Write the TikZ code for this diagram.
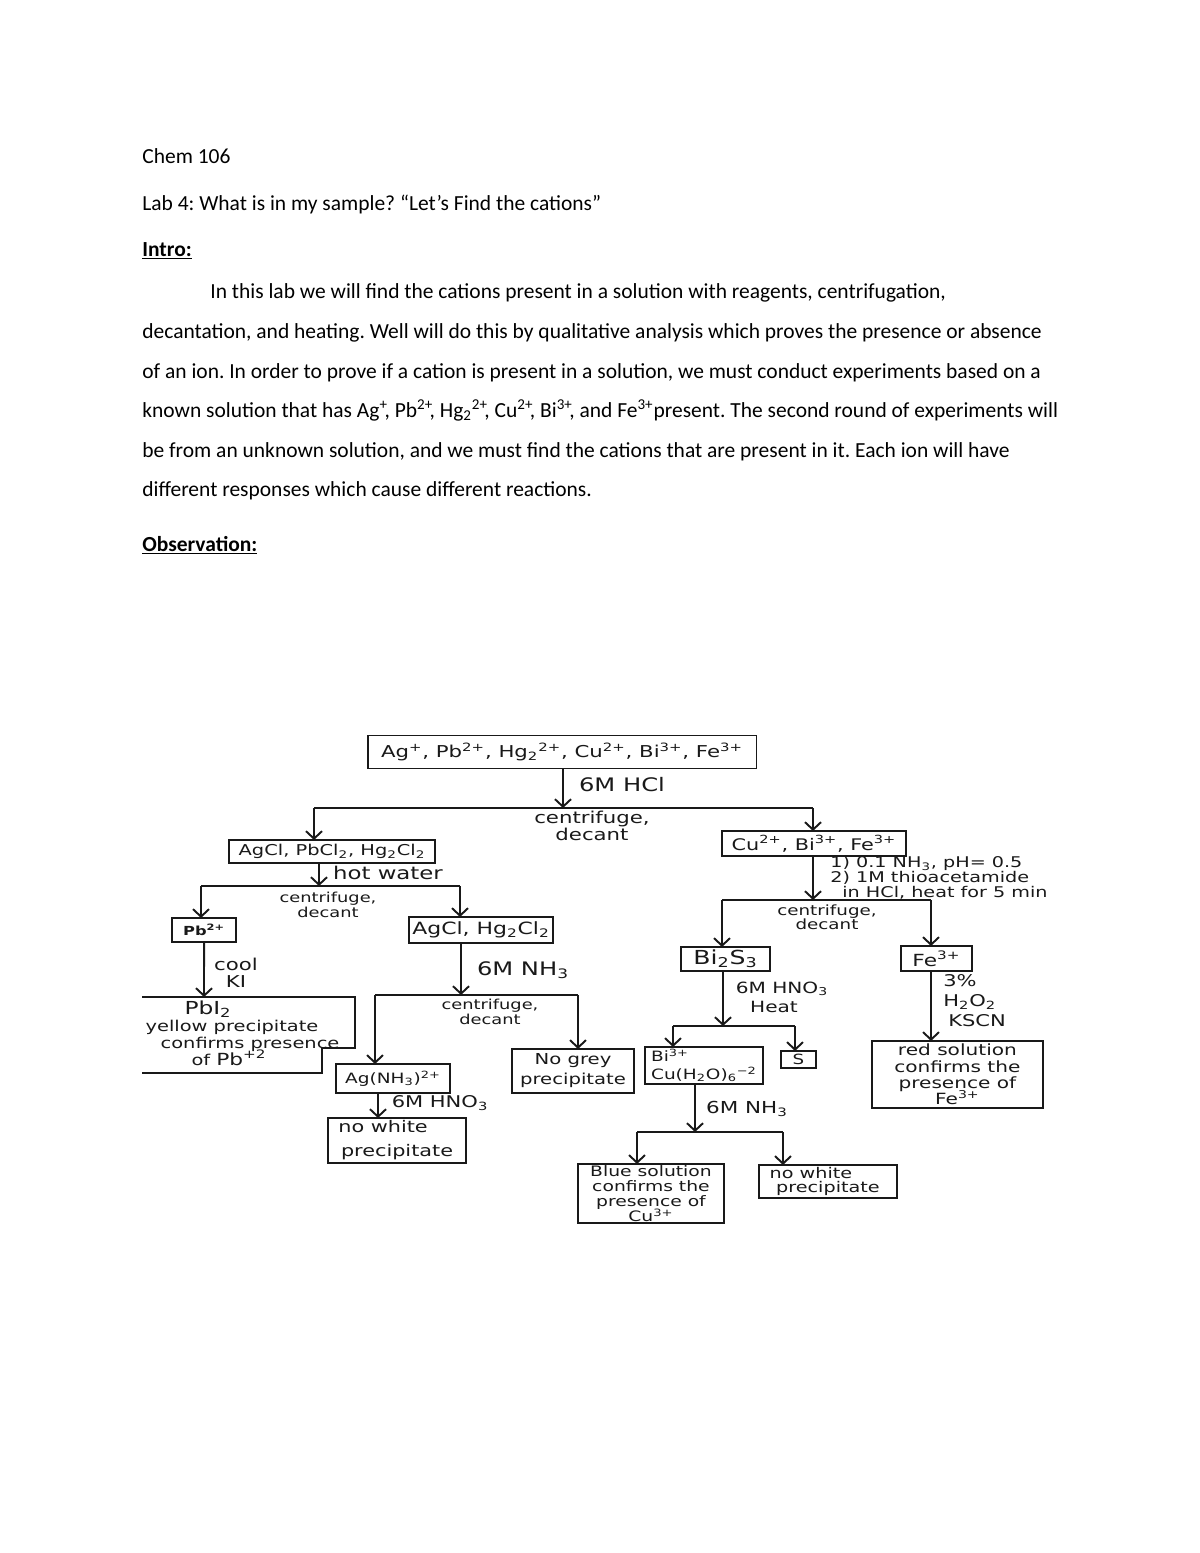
\documentclass[tikz,border=0pt]{standalone}
\usepackage{fontspec}
\usepackage{xcolor}
\usepackage{tikz}
\usetikzlibrary{arrows.meta,positioning}
\setmainfont{Carlito}
\newfontfamily\handfont[FakeStretch=1.3]{DejaVu Sans}
\definecolor{inkblack}{RGB}{25,25,25}
\newcommand{\ionup}[1]{\textsuperscript{#1}\kern-0.16em}

\begin{document}
\frenchspacing
\lineskiplimit=-20pt
\normallineskiplimit=-20pt
\begin{tikzpicture}[
    x=0.02cm,
    y=-0.02cm,
    >={Straight Barb[length=1.5mm,width=3.2mm]},
    printed/.style={
        anchor=base west,
        inner sep=0pt,
        font=\fontsize{12.23}{14}\selectfont
    },
    hand/.style={
        inner sep=0pt,
        align=center,
        text=inkblack,
        font=\handfont\fontsize{7.8}{8.5}\selectfont
    },
    box/.style={
        rectangle,
        draw=inkblack,
        line width=1.1pt,
        inner sep=0pt,
        outer sep=0pt,
        align=center,
        text=inkblack
    },
    ink/.style={draw=inkblack, line width=1.1pt}
]
\useasboundingbox (0,0) rectangle (1200,1553);

\node[printed] (course) at (142,163) {Chem 106};
\node[printed] (title) at (142,210) {Lab 4: What is in my sample? “Let’s Find the cations”};
\node[printed] (intro) at (142,256) {\underline{\textbf{Intro:}}};
\node[printed] (lineone) at (210,298) {In this lab we will find the cations present in a solution with reagents, centrifugation,};
\node[printed] (linetwo) at (142,338) {decantation, and heating. Well will do this by qualitative analysis which proves the presence or absence};
\node[printed] (linethree) at (142,378) {of an ion. In order to prove if a cation is present in a solution, we must conduct experiments based on a};
\node[printed] (linefour) at (142,417) {known solution that has Ag\ionup{+}, Pb\ionup{2+}, Hg\textsubscript{2}\ionup{2+}, Cu\ionup{2+}, Bi\ionup{3+}, and Fe\textsuperscript{3+}present. The second round of experiments will};
\node[printed] (linefive) at (142,457) {be from an unknown solution, and we must find the cations that are present in it. Each ion will have};
\node[printed] (linesix) at (142,496) {different responses which cause different reactions.};
\node[printed] (observation) at (142,551) {\underline{\textbf{Observation:}}};

\node[box, minimum width=7.78cm, minimum height=0.66cm, font=\handfont\fontsize{9.3}{11}\selectfont] (top) at (562,752)
    {Ag\textsuperscript{+}, Pb\textsuperscript{2+}, Hg\textsubscript{2}\textsuperscript{2+}, Cu\textsuperscript{2+}, Bi\textsuperscript{3+}, Fe\textsuperscript{3+}};
\node[box, minimum width=4.12cm, minimum height=0.46cm, below=1.43cm of top, xshift=-4.6cm, font=\handfont\fontsize{8.5}{10}\selectfont] (chlorides)
    {AgCl, PbCl\textsubscript{2}, Hg\textsubscript{2}Cl\textsubscript{2}};
\node[box, minimum width=3.68cm, minimum height=0.5cm, below=1.25cm of top, xshift=5.04cm, font=\handfont\fontsize{9.1}{11}\selectfont] (cubife)
    {Cu\textsuperscript{2+}, Bi\textsuperscript{3+}, Fe\textsuperscript{3+}};
\node[box, minimum width=1.28cm, minimum height=0.48cm, below=1.1cm of chlorides, xshift=-2.56cm, font=\handfont\bfseries\fontsize{7.1}{9}\selectfont] (lead)
    {Pb\textsuperscript{2+}};
\node[box, minimum width=2.88cm, minimum height=0.52cm, below=1.08cm of chlorides, xshift=2.98cm, font=\handfont\fontsize{9.6}{11}\selectfont] (aghg)
    {AgCl, Hg\textsubscript{2}Cl\textsubscript{2}};
\node[box, minimum width=2.28cm, minimum height=0.58cm, below=2.42cm of aghg, xshift=-1.76cm, font=\handfont\fontsize{8.1}{10}\selectfont] (silver)
    {Ag(NH\textsubscript{3})\textsuperscript{2+}};
\node[box, minimum width=2.44cm, minimum height=0.88cm, below=2.12cm of aghg, xshift=1.84cm, font=\handfont\fontsize{8.6}{11.4}\selectfont] (nogrey)
    {No grey\\precipitate};
\node[box, minimum width=2.76cm, minimum height=0.9cm, below=0.5cm of silver, xshift=0.08cm, font=\handfont\fontsize{9.1}{13.6}\selectfont] (nowhitea)
    {no white\hspace*{0.56cm}\\precipitate};
\node[box, minimum width=1.78cm, minimum height=0.48cm, below=1.82cm of cubife, xshift=-1.77cm, font=\handfont\fontsize{11}{13}\selectfont] (bisulfide)
    {Bi\textsubscript{2}S\textsubscript{3}};
\node[box, minimum width=1.42cm, minimum height=0.5cm, below=1.8cm of cubife, xshift=2.45cm, font=\handfont\fontsize{9.5}{11}\selectfont] (iron)
    {Fe\textsuperscript{3+}};
\node[box, minimum width=2.36cm, minimum height=0.74cm, below=1.52cm of bisulfide, xshift=-0.43cm, align=left, font=\handfont\fontsize{8.1}{10}\selectfont] (bicu)
    {Bi\textsuperscript{3+}\\Cu(H\textsubscript{2}O)\textsubscript{6}\textsuperscript{−2}};
\node[box, minimum width=0.7cm, minimum height=0.34cm, below=1.6cm of bisulfide, xshift=1.46cm, font=\handfont\fontsize{8}{10}\selectfont] (sulfur)
    {S};
\node[box, minimum width=3.42cm, minimum height=1.34cm, below=1.4cm of iron, xshift=0.42cm, font=\handfont\fontsize{8.8}{9.3}\selectfont] (redsol)
    {red solution\\confirms the\\presence of\\Fe\textsuperscript{3+}};
\node[box, minimum width=2.92cm, minimum height=1.18cm, below=1.6cm of bicu, xshift=-1.06cm, font=\handfont\fontsize{8.2}{8.5}\selectfont] (bluesol)
    {Blue solution\\confirms the\\presence of\\Cu\textsuperscript{3+}};
\node[box, minimum width=2.76cm, minimum height=0.66cm, below=1.62cm of bicu, xshift=2.48cm, font=\handfont\fontsize{8.4}{8.4}\selectfont] (nowhiteb)
    {no white\hspace*{0.68cm}\\precipitate};

\node[hand, font=\handfont\fontsize{10.2}{12}\selectfont] (pbiname) at (208,1009) {PbI\textsubscript{2}};
\node[hand, anchor=north, font=\handfont\fontsize{8.5}{9.6}\selectfont] (pbitext) at (250,1020)
    {yellow precipitate\hspace*{0.72cm}\\confirms presence\\of {\fontsize{9.5}{9.6}\selectfont Pb\textsuperscript{+2}}\hspace*{0.84cm}};
\draw[ink] (142,997) -- (355,997) -- (355,1048) -- (322,1048) -- (322,1073) -- (142,1073);

\node[hand, font=\handfont\fontsize{10.6}{12}\selectfont] (hcl) at (622,785) {6M HCl};
\node[hand, font=\handfont\fontsize{9.3}{10}\selectfont] (cfgtop) at (592,826) {centrifuge,\\decant};
\node[hand, font=\handfont\fontsize{10}{12}\selectfont] (hotwater) at (388,873) {hot water};
\node[hand] (cfgleft) at (328,905) {centrifuge,\\decant};
\node[hand, font=\handfont\fontsize{9.3}{9.7}\selectfont] (coolki) at (236,973) {cool\\KI};
\node[hand, font=\handfont\fontsize{10.6}{12}\selectfont] (nhleft) at (523,970) {6M NH\textsubscript{3}};
\node[hand] (cfgmid) at (490,1012) {centrifuge,\\decant};
\node[hand, font=\handfont\fontsize{9.2}{11}\selectfont] (hnoleft) at (440,1103) {6M HNO\textsubscript{3}};
\node[hand, anchor=west, align=left, font=\handfont\fontsize{8.4}{8.6}\selectfont] (thio) at (830,878) {1) 0.1 NH\textsubscript{3}, pH= 0.5\\2) 1M thioacetamide\\\hspace*{0.24cm}in HCl, heat for 5 min};
\node[hand, font=\handfont\fontsize{8}{8}\selectfont] (cfgright) at (827,917) {centrifuge,\\decant};
\node[hand, font=\handfont\fontsize{8.8}{10.8}\selectfont] (hnoright) at (782,997) {6M HNO\textsubscript{3}\\Heat\hspace*{0.32cm}};
\node[hand, anchor=west, align=left, font=\handfont\fontsize{9.2}{11.4}\selectfont] (peroxide) at (943,1001) {3\%\\H\textsubscript{2}O\textsubscript{2}\\\hspace*{0.1cm}KSCN};
\node[hand, font=\handfont\fontsize{9.4}{11}\selectfont] (nhright) at (747,1109) {6M NH\textsubscript{3}};

\coordinate (toplsplit) at (314,808);
\coordinate (topmsplit) at (563,808);
\coordinate (toprsplit) at (813,808);
\coordinate (chlsplit) at (201,886);
\coordinate (chmsplit) at (319,886);
\coordinate (chrsplit) at (460,886);
\coordinate (pbitop) at (204,997);
\coordinate (aglsplit) at (375,995);
\coordinate (agmsplit) at (461,995);
\coordinate (agrsplit) at (578,995);
\coordinate (agdrop) at (378,1118);
\coordinate (culsplit) at (722,900);
\coordinate (cumsplit) at (813,900);
\coordinate (cursplit) at (931,900);
\coordinate (bilsplit) at (673,1026);
\coordinate (bimsplit) at (723,1026);
\coordinate (birsplit) at (795,1026);
\coordinate (bclsplit) at (637,1132);
\coordinate (bcmsplit) at (695,1132);
\coordinate (bcrsplit) at (783,1132);

\draw[->, ink] (topmsplit |- top.south) -- (topmsplit);
\draw[ink] (toplsplit) -- (toprsplit);
\draw[->, ink] (toplsplit) -- (toplsplit |- chlorides.north);
\draw[->, ink] (toprsplit) -- (toprsplit |- cubife.north);

\draw[->, ink] (chmsplit |- chlorides.south) -- (chmsplit);
\draw[ink] (chlsplit) -- (chrsplit);
\draw[->, ink] (chlsplit) -- (chlsplit |- lead.north);
\draw[->, ink] (chrsplit) -- (chrsplit |- aghg.north);

\draw[->, ink] (lead) -- (pbitop);

\draw[->, ink] (agmsplit |- aghg.south) -- (agmsplit);
\draw[ink] (aglsplit) -- (agrsplit);
\draw[->, ink] (aglsplit) -- (aglsplit |- silver.north);
\draw[->, ink] (agrsplit) -- (agrsplit |- nogrey.north);
\draw[->, ink] (agdrop |- silver.south) -- (agdrop);

\draw[->, ink] (cumsplit |- cubife.south) -- (cumsplit);
\draw[ink] (culsplit) -- (cursplit);
\draw[->, ink] (culsplit) -- (culsplit |- bisulfide.north);
\draw[->, ink] (cursplit) -- (cursplit |- iron.north);

\draw[->, ink] (bimsplit |- bisulfide.south) -- (bimsplit);
\draw[ink] (bilsplit) -- (birsplit);
\draw[->, ink] (bilsplit) -- (bilsplit |- bicu.north);
\draw[->, ink] (birsplit) -- (birsplit |- sulfur.north);

\draw[->, ink] (cursplit |- iron.south) -- (cursplit |- redsol.north);

\draw[->, ink] (bcmsplit |- bicu.south) -- (bcmsplit);
\draw[ink] (bclsplit) -- (bcrsplit);
\draw[->, ink] (bclsplit) -- (bclsplit |- bluesol.north);
\draw[->, ink] (bcrsplit) -- (bcrsplit |- nowhiteb.north);
\end{tikzpicture}
\end{document}
